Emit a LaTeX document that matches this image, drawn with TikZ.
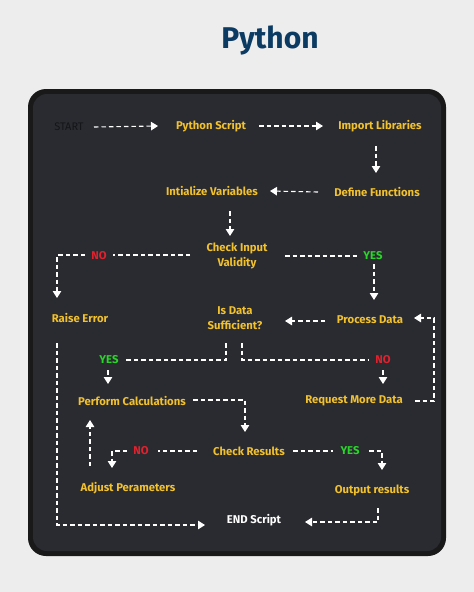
\documentclass[tikz,border=0pt]{standalone}
\usepackage{fontspec}
\setmainfont{Fira Sans}
\usetikzlibrary{arrows.meta,calc}
\definecolor{bgc}{HTML}{EDEDED}
\definecolor{panel}{HTML}{2A2B30}
\definecolor{ylw}{HTML}{F2C12E}
\definecolor{grn}{HTML}{2BD62B}
\definecolor{rd}{HTML}{E0212E}
\definecolor{navy}{HTML}{0B3A62}
\definecolor{startc}{HTML}{141518}
\begin{document}
\begin{tikzpicture}[x=1pt,y=-1pt,
  lbl/.style={font=\bfseries\fontsize{11.3}{14.5}\selectfont, text=ylw, inner sep=0pt, align=center},
  yes/.style={font=\bfseries\fontsize{11.3}{13}\selectfont, text=grn, inner sep=0pt},
  no/.style={font=\bfseries\fontsize{11.3}{13}\selectfont, text=rd, inner sep=0pt},
  dl/.style={draw=white, line width=1.1pt, dash pattern=on 4.5pt off 3pt},
  dla/.style={dl, -{Triangle[width=8.5pt,length=7pt]}}
]
\useasboundingbox (0,0) rectangle (474,592);
\fill[bgc] (0,0) rectangle (474,592);
\fill[black!90, rounded corners=18pt] (28,89) rectangle (446,556);
\fill[panel, rounded corners=14pt] (33,94) rectangle (441,551);

\node[font=\bfseries\fontsize{30}{36}\selectfont, text=navy] (title) at (270,40) {Python};

\node[font=\fontsize{11}{13}\selectfont, text=startc, inner sep=0pt] (start) at (69,127) {START};
\node[lbl] (pys) at (211,126) {Python Script};
\node[lbl] (imp) at (380,126) {Import Libraries};
\node[lbl] (def) at (377,192) {Define Functions};
\node[lbl] (ini) at (212,191) {Intialize Variables};
\node[lbl] (chk) at (237,256) {Check Input\\Validity};
\node[no] (no1) at (99,256) {NO};
\node[yes] (yes1) at (373,256) {YES};
\node[lbl] (raise) at (80,318) {Raise Error};
\node[lbl] (suf) at (235,318) {Is Data\\Sufficient?};
\node[lbl] (proc) at (370,320) {Process Data};
\node[yes] (yes2) at (109,360) {YES};
\node[no] (no2) at (383,360) {NO};
\node[lbl] (perf) at (132,401) {Perform Calculations};
\node[lbl] (req) at (354,401) {Request More Data};
\node[lbl] (res) at (249,451) {Check Results};
\node[no] (no3) at (141,451) {NO};
\node[yes] (yes3) at (350,451) {YES};
\node[lbl] (adj) at (128,488) {Adjust Perameters};
\node[lbl] (out) at (372,490) {Output results};
\node[lbl, text=white] (end) at (254,520) {END Script};

\draw[dla] ($(start)+(25,0)$) -- ($(pys)+(-53,0)$);
\draw[dla] ($(pys)+(48,0)$) -- ($(imp)+(-57,0)$);
\draw[dla] ($(imp)+(-4,20)$) -- ($(def)+(-1,-19)$);
\draw[dla] ($(def)+(-59,0)$) -- ($(ini)+(58,0)$);
\draw[dla] ($(ini)+(18,20)$) -- ($(chk)+(-7,-20)$);
\draw[dl] ($(chk)+(-47,-1)$) -- ($(no1)+(14,-1)$);
\draw[dla] ($(no1)+(-14,-1)$) -| ($(raise)+(-23,-20)$);
\draw[dl] ($(chk)+(48,0)$) -- ($(yes1)+(-15,0)$);
\draw[dla] ($(yes1)+(1,8)$) -- ($(proc)+(4,-20)$);
\draw[dla] ($(proc)+(-45,1)$) -- ($(suf)+(50,3)$);
\draw[dla] ($(req)+(61,0)$) -- ($(req)+(80,0)$) |- ($(proc)+(44,-2)$);
\draw[dl] ($(suf)+(-9,25)$) |- ($(yes2)+(16,0)$);
\draw[dla] ($(yes2)+(-1,10)$) -- ($(perf)+(-24,-17)$);
\draw[dl] ($(suf)+(7,25)$) |- ($(no2)+(-15,0)$);
\draw[dla] ($(no2)+(0,10)$) -- ($(req)+(29,-17)$);
\draw[dla] ($(perf)+(61,-1)$) -| ($(res)+(-4,-19)$);
\draw[dl] ($(res)+(-52,0)$) -- ($(no3)+(17,0)$);
\draw[dla] ($(no3)+(-14,0)$) -| ($(adj)+(-16,-20)$);
\draw[dl] ($(res)+(44,0)$) -- ($(yes3)+(-17,0)$);
\draw[dla] ($(yes3)+(19,0)$) -| ($(out)+(10,-20)$);
\draw[dla] ($(adj)+(-38,-22)$) -- ($(perf)+(-42,19)$);
\draw[dla] ($(raise)+(-23,25)$) |- ($(end)+(-49,5)$);
\draw[dla] ($(out)+(6,18)$) |- ($(end)+(51,2)$);
\end{tikzpicture}
\end{document}
